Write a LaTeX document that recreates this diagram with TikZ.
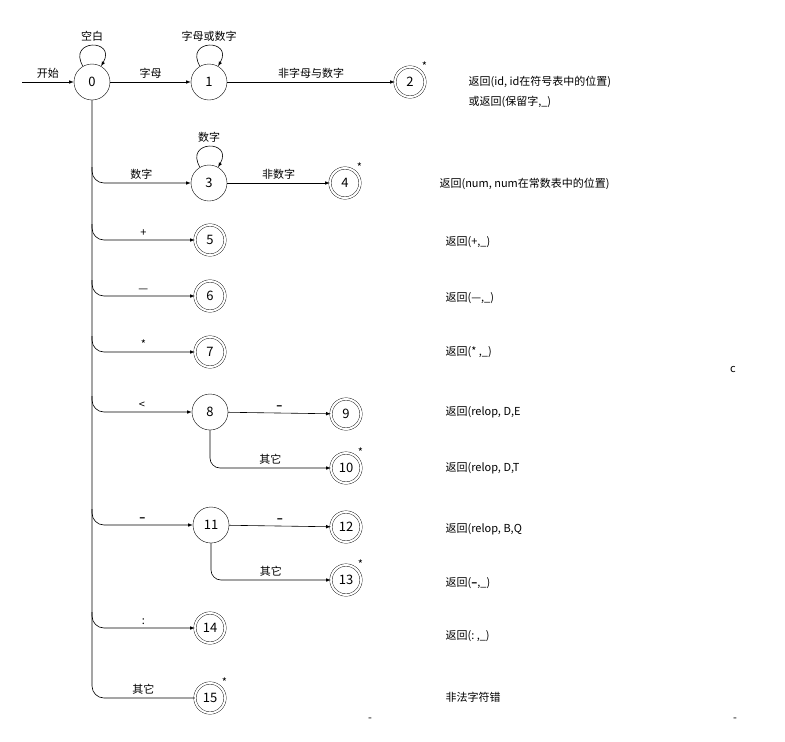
\documentclass[tikz,border=0pt]{standalone}
\usepackage{fontspec}
\setmainfont{Noto Sans CJK SC}
\usetikzlibrary{arrows}
\begin{document}
\begin{tikzpicture}[x=1pt,y=-1pt,font=\fontsize{11}{12}\selectfont,
    state/.style={draw,circle,minimum size=36pt,inner sep=0pt,font=\fontsize{13}{14}\selectfont},
    accept/.style={draw,circle,double,double distance=2pt,minimum size=30pt,inner sep=0pt,font=\fontsize{13}{14}\selectfont},
    arr/.style={-latex,semithick},
    ret/.style={anchor=west}]
\useasboundingbox (0,0) rectangle (785,742);
% states
\node[state] (s0) at (92,82) {0};
\node[state] (s1) at (209,82) {1};
\node[accept] (s2) at (410,82) {2};
\node[state] (s3) at (209,183) {3};
\node[accept] (s4) at (345,183) {4};
\node[accept] (s5) at (210,240) {5};
\node[accept] (s6) at (210,296) {6};
\node[accept] (s7) at (210,352) {7};
\node[state] (s8) at (210,412) {8};
\node[accept] (s9) at (346,414) {9};
\node[accept] (s10) at (346,468) {10};
\node[state] (s11) at (211,525) {11};
\node[accept] (s12) at (346,527) {12};
\node[accept] (s13) at (346,580) {13};
\node[accept] (s14) at (210,628) {14};
\node[accept] (s15) at (210,698) {15};
\foreach \s in {s2,s4,s10,s13,s15}
  \node[anchor=south west,inner sep=1pt] at (\s.north east) {*};
% start
\coordinate (start) at (22,82);
\draw[arr] (start) -- node[above] {开始} (s0);
% loops
\draw[arr] (s0) to[out=120,in=60,looseness=4.5] node[above] {空白} (s0);
\draw[arr] (s1) to[out=120,in=60,looseness=4.5] node[above] {字母或数字} (s1);
\draw[arr] (s3) to[out=120,in=60,looseness=4.5] node[above] {数字} (s3);
% main edges
\draw[arr] (s0) -- node[above] {字母} (s1);
\draw[arr] (s1) -- node[above] {非字母与数字} (s2);
\draw[arr] (s3) -- node[above] {非数字} (s4);
\draw[arr] (s8) -- node[above] {\textbf{–}} (s9);
\draw[arr] (s11) -- node[above] {\textbf{–}} (s12);
\draw[arr,rounded corners=10pt] (s8.south) |- node[pos=0.75,above] {其它} (s10);
\draw[arr,rounded corners=10pt] (s11.south) |- node[pos=0.75,above] {其它} (s13);
% trunk and branches
\draw[semithick,rounded corners=12pt] (s0.south) |- node[pos=0.75,above] {其它} (s15);
\foreach \s/\y/\t in {s3/183/数字, s5/240/+, s6/296/—, s7/352/*, s8/412/<, s11/525/\textbf{–}, s14/628/:}{
  \coordinate (b\s) at (92,\y-16);
  \draw[arr,rounded corners=12pt] (b\s) |- node[pos=0.75,above] {\t} (\s);
}
% results
\node[ret] (r2) at (465,82) {返回(id, id在符号表中的位置)};
\node[ret] (r2b) at (465,102) {或返回(保留字,\_)};
\node[ret] (r4) at (436,184) {返回(num, num在常数表中的位置)};
\node[ret] (r5) at (442,242) {返回(+,\_)};
\node[ret] (r6) at (442,298) {返回(—,\_)};
\node[ret] (r7) at (442,352) {返回(*\ ,\_)};
\node[ret] (r9) at (442,412) {返回(relop, D,E};
\node[ret] (r10) at (442,468) {返回(relop, D,T};
\node[ret] (r12) at (442,529) {返回(relop, B,Q};
\node[ret] (r13) at (442,583) {返回(\textbf{–},\_)};
\node[ret] (r14) at (442,636) {返回(:\ ,\_)};
\node[ret] (r15) at (442,697) {非法字符错};
\node (cmark) at (733,370) {c};
\node (dash1) at (370,720) {-};
\node (dash2) at (735,720) {-};
\end{tikzpicture}
\end{document}
